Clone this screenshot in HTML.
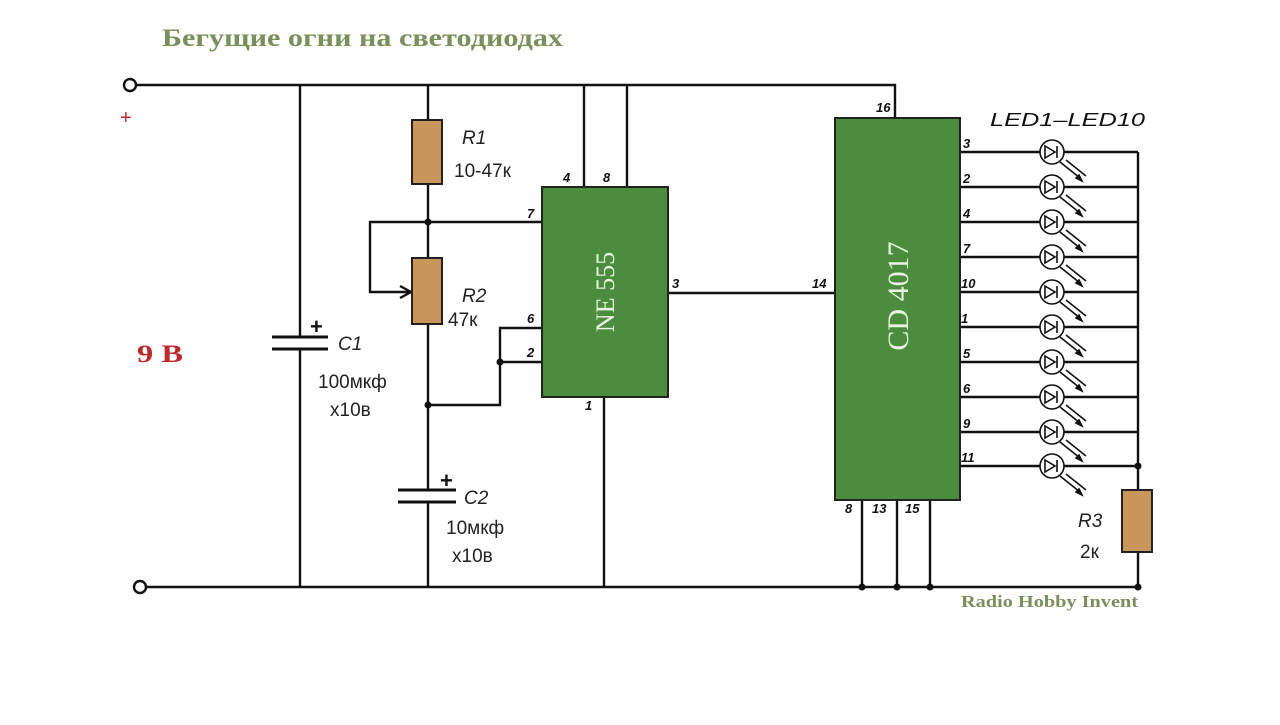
<!DOCTYPE html>
<html><head><meta charset="utf-8"><style>
body{margin:0;background:#fff;width:1280px;height:720px;overflow:hidden}
svg{font-family:"Liberation Sans",sans-serif}
.p{font-style:italic;font-size:13px;font-weight:bold}
.l{font-size:19px}
</style></head><body>
<svg width="1280" height="720" viewBox="0 0 1280 720" xmlns="http://www.w3.org/2000/svg">
<text x="162" y="46" font-family="Liberation Serif" font-weight="bold" font-size="25" fill="#7a8f5a" textLength="401" lengthAdjust="spacingAndGlyphs">Бегущие огни на светодиодах</text>
<g stroke="#111" stroke-width="2.4" fill="none">
<circle cx="130" cy="85" r="6" fill="#fff"/>
<circle cx="140" cy="587" r="6" fill="#fff"/>
<path d="M136 85H895V118"/>
<path d="M146 587H1138"/>
<path d="M300 85V337M300 349V587"/>
<path d="M272 337H328M272 349H328" stroke-width="3"/>
<path d="M428 85V490M428 502V587"/>
<path d="M398 490H456M398 502H456" stroke-width="3"/>
<path d="M428 222H370V292H410M400 286L411 292L400 298"/>
<path d="M428 222H542"/>
<path d="M542 328H500V405H428M500 362H542"/>
<path d="M584 85V187M627 85V187M604 397V587"/>
<path d="M668 293H835"/>
<path d="M862 500V587M897 500V587M930 500V587"/>
<path d="M960 152H1138M960 187H1138M960 222H1138M960 257H1138M960 292H1138M960 327H1138M960 362H1138M960 397H1138M960 432H1138M960 466H1138"/>
<path d="M1138 152V490M1138 552V587"/>
</g>
<g fill="#111">
<circle cx="428" cy="222" r="3.5"/><circle cx="428" cy="405" r="3.5"/><circle cx="500" cy="362" r="3.5"/>
<circle cx="1138" cy="466" r="3.5"/><circle cx="862" cy="587" r="3.5"/><circle cx="897" cy="587" r="3.5"/><circle cx="930" cy="587" r="3.5"/><circle cx="1138" cy="587" r="3.5"/>
</g>
<g fill="#c8955a" stroke="#222" stroke-width="2">
<rect x="412" y="120" width="30" height="64"/>
<rect x="412" y="258" width="30" height="66"/>
<rect x="1122" y="490" width="30" height="62"/>
</g>
<rect x="542" y="187" width="126" height="210" fill="#4b8d3c" stroke="#222" stroke-width="2"/>
<rect x="835" y="118" width="125" height="382" fill="#4b8d3c" stroke="#222" stroke-width="2"/>
<text transform="translate(614,292) rotate(-90)" text-anchor="middle" font-family="Liberation Serif" font-size="26" fill="#e8f5e0">NE 555</text>
<text transform="translate(908,296) rotate(-90)" text-anchor="middle" font-family="Liberation Serif" font-size="30" fill="#e8f5e0">CD 4017</text>
<g stroke="#111" stroke-width="1.6" fill="#fff">
<g id="led"><circle cx="1052" cy="152" r="12"/><path d="M1045 146V158L1055 152ZM1057 146V158" fill="none"/><path d="M1060 162L1080 178M1066 160L1086 176" /><path d="M1076 178L1082 181L1079 175Z" fill="#111"/></g>
<use href="#led" y="35"/><use href="#led" y="70"/><use href="#led" y="105"/><use href="#led" y="140"/><use href="#led" y="175"/><use href="#led" y="210"/><use href="#led" y="245"/><use href="#led" y="280"/><use href="#led" y="314"/>
</g>
<g class="p" fill="#111">
<text x="563" y="182">4</text><text x="603" y="182">8</text><text x="527" y="218">7</text><text x="527" y="323">6</text><text x="527" y="357">2</text><text x="585" y="410">1</text><text x="672" y="288">3</text>
<text x="812" y="288">14</text><text x="876" y="112">16</text>
<text x="963" y="148">3</text><text x="963" y="183">2</text><text x="963" y="218">4</text><text x="963" y="253">7</text><text x="961" y="288">10</text><text x="961" y="323">1</text><text x="963" y="358">5</text><text x="963" y="393">6</text><text x="963" y="428">9</text><text x="961" y="462">11</text>
<text x="845" y="513">8</text><text x="872" y="513">13</text><text x="905" y="513">15</text>
</g>
<text x="990" y="126" font-style="italic" font-size="18" fill="#111" textLength="155" lengthAdjust="spacingAndGlyphs">LED1–LED10</text>
<g class="l" fill="#222">
<text x="462" y="144" font-style="italic">R1</text><text x="454" y="177">10-47к</text>
<text x="462" y="302" font-style="italic">R2</text><text x="448" y="326">47к</text>
<text x="338" y="350" font-style="italic">C1</text><text x="318" y="388">100мкф</text><text x="330" y="416">х10в</text>
<text x="464" y="504" font-style="italic">C2</text><text x="446" y="534">10мкф</text><text x="452" y="562">х10в</text>
<text x="1078" y="527" font-style="italic">R3</text><text x="1080" y="558">2к</text>
</g>
<text x="310" y="334" font-size="22" font-weight="bold" fill="#111">+</text>
<text x="440" y="488" font-size="22" font-weight="bold" fill="#111">+</text>
<text x="120" y="124" font-size="20" fill="#c0282a">+</text>
<text x="137" y="362" font-family="Liberation Serif" font-weight="bold" font-size="25" fill="#c0282a" textLength="46" lengthAdjust="spacingAndGlyphs">9 В</text>
<text x="961" y="607" font-family="Liberation Serif" font-weight="bold" font-size="17" fill="#7a8f5a" textLength="177" lengthAdjust="spacingAndGlyphs">Radio Hobby Invent</text>
</svg>
</body></html>
